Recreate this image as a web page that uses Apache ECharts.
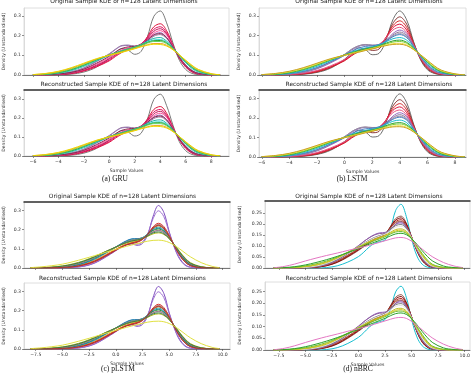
<!DOCTYPE html>
<html><head><meta charset="utf-8">
<script src="https://cdn.jsdelivr.net/npm/echarts@6/dist/echarts.min.js"></script>
<style>html,body{margin:0;padding:0;background:#fff}#c{width:474px;height:380px}</style>
</head><body><div id="c"></div>
<script>
// ---------- DATA ----------
const XA = [-6,-5,-4,-3,-2,-1,0,0.5,1,1.5,2,2.5,3,3.5,4,4.5,5,5.5,6,6.5,7,8,8.7];
const XC = [-8,-7,-6,-5,-4,-3,-2,-1,0,0.5,1,1.5,2,2.5,3,3.5,4,4.5,5,5.5,6,6.5,7,8,9,9.7];
const XD = [-8,-7,-6,-5,-4,-3,-2,-1,0,0.5,1,1.5,2,2.5,3,3.5,4,4.5,5,5.5,6,6.5,7,8,9,9.8];
const xTicksAB = [-6,-4,-2,0,2,4,6,8];
const xTicksCD = [-7.5,-5,-2.5,0,2.5,5,7.5,10];
const yTicksABC = [0,0.1,0.2,0.3];
const yTicksD = [0,0.05,0.1,0.15,0.2,0.25];

// (a) GRU
const A_gray    = [0,0,0.001,0.004,0.015,0.04,0.085,0.115,0.135,0.125,0.105,0.12,0.195,0.298,0.325,0.265,0.162,0.075,0.028,0.008,0.002,0,0];
const A_red1    = [0,0,0.002,0.007,0.02,0.042,0.072,0.095,0.115,0.13,0.14,0.155,0.195,0.245,0.26,0.225,0.152,0.085,0.04,0.015,0.005,0,0];
const A_red2    = [0,0.001,0.003,0.009,0.023,0.046,0.076,0.1,0.12,0.135,0.145,0.158,0.19,0.232,0.245,0.215,0.148,0.085,0.042,0.017,0.006,0,0];
const A_red3    = [0,0.001,0.003,0.01,0.025,0.05,0.082,0.104,0.123,0.135,0.142,0.155,0.185,0.222,0.235,0.208,0.147,0.088,0.045,0.019,0.007,0.001,0];
const A_pink    = [0,0.001,0.004,0.012,0.028,0.055,0.088,0.11,0.128,0.138,0.143,0.154,0.18,0.212,0.225,0.203,0.145,0.09,0.047,0.021,0.008,0.001,0];
const A_purple1 = [0,0.002,0.006,0.015,0.035,0.068,0.105,0.13,0.148,0.15,0.145,0.15,0.175,0.205,0.215,0.19,0.14,0.09,0.05,0.022,0.008,0.001,0];
const A_purple2 = [0,0.002,0.006,0.016,0.036,0.07,0.108,0.132,0.15,0.152,0.146,0.15,0.172,0.197,0.205,0.185,0.14,0.092,0.052,0.024,0.009,0.001,0];
const A_maroon  = [0,0.001,0.005,0.013,0.03,0.06,0.095,0.118,0.135,0.143,0.146,0.153,0.178,0.203,0.21,0.19,0.142,0.09,0.048,0.021,0.008,0.001,0];
const A_teal    = [0.001,0.003,0.009,0.022,0.044,0.072,0.1,0.113,0.124,0.133,0.142,0.155,0.172,0.186,0.19,0.172,0.138,0.098,0.062,0.033,0.015,0.002,0];
const A_cyan    = [0.001,0.004,0.011,0.025,0.047,0.075,0.101,0.112,0.122,0.132,0.141,0.153,0.168,0.178,0.18,0.167,0.136,0.1,0.065,0.037,0.018,0.003,0];
const A_green   = [0.001,0.004,0.012,0.027,0.05,0.077,0.102,0.112,0.121,0.131,0.14,0.152,0.165,0.174,0.175,0.163,0.135,0.1,0.067,0.039,0.02,0.004,0.001];
const A_lime    = [0.001,0.005,0.014,0.03,0.053,0.079,0.102,0.111,0.12,0.13,0.139,0.15,0.162,0.17,0.17,0.159,0.133,0.101,0.069,0.041,0.022,0.004,0.001];
const A_orange  = [0.002,0.007,0.017,0.034,0.057,0.081,0.101,0.109,0.117,0.126,0.135,0.145,0.154,0.16,0.16,0.151,0.13,0.102,0.073,0.046,0.026,0.006,0.001];
const A_yellow  = [0.002,0.008,0.019,0.037,0.06,0.083,0.1,0.107,0.115,0.124,0.133,0.143,0.151,0.156,0.155,0.147,0.128,0.102,0.075,0.049,0.028,0.007,0.001];

// (b) LSTM
const B_gray    = [0,0,0.001,0.004,0.013,0.035,0.08,0.112,0.138,0.13,0.103,0.11,0.175,0.28,0.325,0.28,0.17,0.078,0.027,0.008,0.002,0,0];
const B_brown   = [0,0,0.001,0.005,0.015,0.038,0.076,0.103,0.126,0.133,0.125,0.132,0.185,0.262,0.295,0.258,0.165,0.082,0.032,0.01,0.003,0,0];
const B_red1    = [0,0,0.002,0.006,0.017,0.04,0.072,0.097,0.118,0.131,0.134,0.145,0.19,0.25,0.275,0.242,0.16,0.085,0.036,0.013,0.004,0,0];
const B_crimson = [0,0.001,0.003,0.008,0.02,0.043,0.075,0.1,0.12,0.133,0.139,0.151,0.19,0.24,0.258,0.228,0.155,0.087,0.04,0.015,0.005,0,0];
const B_pink    = [0,0.001,0.003,0.009,0.023,0.047,0.079,0.103,0.123,0.135,0.142,0.155,0.188,0.228,0.242,0.216,0.152,0.088,0.043,0.017,0.006,0.001,0];
const B_purple1 = [0,0.001,0.005,0.013,0.031,0.062,0.1,0.126,0.145,0.152,0.15,0.152,0.175,0.21,0.228,0.208,0.15,0.09,0.045,0.019,0.007,0.001,0];
const B_purple2 = [0,0.002,0.006,0.015,0.034,0.066,0.104,0.13,0.148,0.155,0.152,0.153,0.172,0.203,0.218,0.2,0.148,0.092,0.048,0.021,0.008,0.001,0];
const B_gray2   = [0,0.002,0.006,0.016,0.035,0.067,0.105,0.13,0.147,0.153,0.15,0.152,0.17,0.198,0.21,0.194,0.146,0.093,0.05,0.022,0.008,0.001,0];
const B_blue    = [0,0.002,0.007,0.018,0.038,0.068,0.1,0.12,0.136,0.145,0.148,0.155,0.172,0.194,0.205,0.19,0.145,0.095,0.053,0.025,0.01,0.001,0];
const B_cyan    = [0.001,0.003,0.009,0.022,0.044,0.073,0.101,0.116,0.128,0.137,0.143,0.152,0.168,0.184,0.19,0.177,0.14,0.098,0.06,0.031,0.014,0.002,0];
const B_green   = [0.001,0.004,0.012,0.027,0.05,0.077,0.102,0.113,0.123,0.132,0.139,0.148,0.161,0.173,0.177,0.166,0.137,0.1,0.065,0.036,0.017,0.003,0];
const B_lime    = [0.001,0.005,0.014,0.03,0.053,0.079,0.101,0.111,0.12,0.129,0.137,0.146,0.157,0.167,0.17,0.161,0.134,0.101,0.068,0.039,0.019,0.004,0.001];
const B_yellow  = [0.002,0.007,0.017,0.034,0.057,0.081,0.1,0.109,0.117,0.126,0.134,0.143,0.152,0.159,0.161,0.153,0.131,0.102,0.072,0.044,0.023,0.005,0.001];
const B_gold    = [0.002,0.008,0.019,0.037,0.06,0.083,0.1,0.107,0.115,0.124,0.132,0.141,0.149,0.155,0.156,0.149,0.129,0.103,0.075,0.047,0.025,0.006,0.001];

// (c) pLSTM
const C_purple1 = [0,0,0,0.001,0.003,0.009,0.025,0.055,0.09,0.108,0.122,0.125,0.118,0.128,0.175,0.27,0.326,0.29,0.19,0.105,0.045,0.014,0.004,0,0,0];
const C_purple2 = [0,0,0,0.001,0.003,0.01,0.027,0.058,0.093,0.111,0.125,0.128,0.124,0.136,0.18,0.258,0.298,0.268,0.185,0.108,0.05,0.017,0.005,0,0,0];
const C_red     = [0,0,0.001,0.002,0.006,0.015,0.032,0.06,0.092,0.108,0.12,0.128,0.134,0.148,0.178,0.215,0.233,0.216,0.17,0.115,0.064,0.031,0.012,0.002,0,0];
const C_brown   = [0,0,0.001,0.003,0.008,0.018,0.036,0.064,0.095,0.11,0.122,0.132,0.14,0.152,0.178,0.21,0.226,0.21,0.168,0.115,0.067,0.033,0.014,0.002,0,0];
const C_orange  = [0,0,0.001,0.003,0.009,0.02,0.04,0.068,0.098,0.112,0.124,0.133,0.14,0.152,0.176,0.205,0.22,0.205,0.166,0.116,0.07,0.035,0.015,0.002,0,0];
const C_teal    = [0,0.001,0.002,0.005,0.011,0.024,0.045,0.075,0.108,0.125,0.14,0.15,0.152,0.158,0.178,0.203,0.213,0.198,0.161,0.116,0.072,0.038,0.017,0.003,0,0];
const C_blue    = [0,0.001,0.002,0.005,0.012,0.026,0.048,0.078,0.11,0.127,0.142,0.152,0.153,0.157,0.175,0.198,0.207,0.194,0.159,0.117,0.074,0.04,0.018,0.003,0,0];
const C_green   = [0,0.001,0.003,0.007,0.015,0.03,0.052,0.08,0.108,0.122,0.134,0.142,0.147,0.156,0.174,0.195,0.203,0.19,0.158,0.118,0.077,0.043,0.02,0.004,0.001,0];
const C_pink    = [0,0.001,0.003,0.008,0.017,0.032,0.055,0.082,0.108,0.121,0.132,0.14,0.146,0.155,0.172,0.19,0.197,0.186,0.157,0.119,0.08,0.046,0.023,0.005,0.001,0];
const C_gray    = [0,0.001,0.003,0.008,0.017,0.033,0.056,0.084,0.11,0.124,0.137,0.146,0.15,0.156,0.171,0.188,0.195,0.184,0.156,0.119,0.08,0.047,0.023,0.005,0.001,0];
const C_olive   = [0.001,0.002,0.005,0.011,0.022,0.038,0.06,0.085,0.108,0.12,0.13,0.138,0.144,0.152,0.165,0.178,0.183,0.175,0.153,0.12,0.085,0.052,0.028,0.007,0.001,0];
const C_dgreen  = [0,0.001,0.004,0.01,0.02,0.036,0.058,0.084,0.109,0.122,0.133,0.141,0.146,0.153,0.168,0.183,0.188,0.178,0.154,0.119,0.082,0.049,0.025,0.006,0.001,0];
const C_dred    = [0,0,0.001,0.003,0.007,0.017,0.035,0.063,0.094,0.109,0.121,0.13,0.137,0.15,0.176,0.208,0.222,0.205,0.165,0.114,0.066,0.032,0.013,0.002,0,0];
const C_yellow  = [0.002,0.006,0.012,0.02,0.033,0.048,0.064,0.081,0.097,0.105,0.113,0.12,0.127,0.134,0.14,0.144,0.145,0.142,0.133,0.118,0.099,0.078,0.058,0.028,0.009,0.002];

// (d) nBRC
const D_cyan     = [0,0,0,0,0,0.002,0.01,0.027,0.052,0.072,0.095,0.112,0.12,0.128,0.175,0.262,0.29,0.235,0.132,0.055,0.017,0.004,0.001,0,0,0];
const D_cyan_rec = [0,0,0,0,0,0.002,0.01,0.028,0.054,0.074,0.097,0.113,0.121,0.13,0.172,0.248,0.272,0.225,0.13,0.056,0.018,0.004,0.001,0,0,0];
const D_brown    = [0,0,0,0.001,0.003,0.01,0.025,0.05,0.08,0.097,0.113,0.127,0.138,0.152,0.188,0.225,0.236,0.205,0.142,0.077,0.033,0.011,0.003,0,0,0];
const D_maroon   = [0,0,0,0.001,0.004,0.011,0.027,0.053,0.083,0.1,0.116,0.13,0.14,0.153,0.186,0.218,0.228,0.2,0.141,0.079,0.035,0.012,0.004,0,0,0];
const D_red      = [0,0,0,0.002,0.005,0.013,0.03,0.056,0.086,0.103,0.119,0.132,0.142,0.154,0.183,0.211,0.22,0.195,0.14,0.081,0.037,0.014,0.004,0,0,0];
const D_sienna   = [0,0,0.001,0.002,0.006,0.015,0.032,0.059,0.089,0.106,0.122,0.135,0.145,0.156,0.182,0.206,0.213,0.19,0.139,0.083,0.04,0.016,0.005,0,0,0];
const D_purple   = [0,0,0.001,0.002,0.006,0.016,0.035,0.066,0.1,0.12,0.138,0.152,0.16,0.162,0.176,0.198,0.205,0.185,0.138,0.085,0.042,0.017,0.005,0,0,0];
const D_purple2  = [0,0,0.001,0.003,0.007,0.018,0.038,0.068,0.102,0.121,0.137,0.15,0.157,0.158,0.173,0.2,0.21,0.188,0.139,0.084,0.04,0.016,0.005,0,0,0];
const D_gray     = [0,0,0.001,0.003,0.008,0.019,0.039,0.067,0.097,0.113,0.127,0.139,0.148,0.156,0.174,0.193,0.198,0.181,0.138,0.089,0.047,0.02,0.007,0.001,0,0];
const D_light    = [0,0,0.001,0.003,0.009,0.021,0.042,0.069,0.097,0.111,0.124,0.136,0.145,0.154,0.17,0.186,0.19,0.176,0.137,0.091,0.05,0.022,0.008,0.001,0,0];
const D_olive    = [0,0.001,0.002,0.006,0.013,0.025,0.045,0.07,0.096,0.108,0.12,0.131,0.14,0.149,0.162,0.175,0.178,0.167,0.135,0.095,0.057,0.028,0.011,0.002,0,0];
const D_gold     = [0,0.001,0.003,0.007,0.015,0.028,0.047,0.071,0.095,0.107,0.118,0.128,0.137,0.146,0.158,0.169,0.172,0.162,0.133,0.097,0.061,0.031,0.013,0.002,0,0];
const D_lime     = [0,0.001,0.004,0.01,0.019,0.032,0.05,0.072,0.094,0.105,0.115,0.124,0.133,0.142,0.154,0.164,0.166,0.158,0.134,0.1,0.066,0.036,0.016,0.003,0,0];
const D_green    = [0,0.002,0.006,0.014,0.025,0.038,0.053,0.07,0.088,0.098,0.108,0.117,0.126,0.135,0.146,0.155,0.158,0.152,0.134,0.108,0.079,0.052,0.031,0.009,0.002,0];
const D_pink     = [0.001,0.007,0.018,0.032,0.045,0.057,0.068,0.08,0.091,0.097,0.103,0.11,0.117,0.124,0.131,0.137,0.139,0.135,0.122,0.105,0.086,0.067,0.05,0.025,0.009,0.002];

// ---------- STYLE / LAYOUT ----------
const panels = [
  { x: XA, xt: xTicksAB, yt: yTicksABC, xmin: -6.7, xmax: 9.4, left: 21, width: 208,
    sub: [{top: 8, h: 67, ymax: 0.34, topLine: false}, {top: 90, h: 66, ymax: 0.347, topLine: true}],
    titleX: 124, captionX: 115, captionY: 179, caption: '(a) GRU', titleY: [1.5, 84.3], nameGap: 18,
    orig: [[A_gray,'#7a7a7a'],[A_red1,'#dc143c'],[A_red2,'#e0115f'],[A_red3,'#c2185b'],[A_pink,'#ff4f9a'],[A_purple1,'#9467bd'],[A_purple2,'#9a7ea6'],[A_maroon,'#8b2a4a'],[A_teal,'#20b2aa'],[A_cyan,'#40e0d0'],[A_green,'#2ca02c'],[A_lime,'#5fd35f'],[A_orange,'#f0a020'],[A_yellow,'#e8d800']] },
  { x: XA, xt: xTicksAB, yt: yTicksABC, xmin: -6.2, xmax: 8.8, left: 259, width: 207,
    sub: [{top: 8, h: 67, ymax: 0.34, topLine: false}, {top: 90, h: 67, ymax: 0.345, topLine: true}],
    titleX: 369, captionX: 352, captionY: 179, caption: '(b) LSTM', titleY: [1.5, 84.3], nameGap: 18,
    orig: [[B_gray,'#6e6e6e'],[B_brown,'#8b3a3a'],[B_red1,'#d62728'],[B_crimson,'#dc143c'],[B_pink,'#e75480'],[B_purple1,'#9467bd'],[B_purple2,'#8e7a9a'],[B_gray2,'#9a8fa8'],[B_blue,'#4a7fc0'],[B_cyan,'#17becf'],[B_green,'#2ca02c'],[B_lime,'#7ccd32'],[B_yellow,'#f0e040'],[B_gold,'#c8a020']] },
  { x: XC, xt: xTicksCD, yt: yTicksABC, xmin: -8.6, xmax: 10.7, left: 21, width: 209,
    sub: [{top: 202, h: 66, ymax: 0.344, topLine: true}, {top: 283, h: 66, ymax: 0.344, topLine: false}],
    titleX: 122.5, captionX: 118, captionY: 369, caption: '(c) pLSTM', titleY: [196, 278.3], nameGap: 18,
    orig: [[C_purple1,'#7f4fbf'],[C_purple2,'#9d6fd0'],[C_red,'#d62728'],[C_brown,'#8c564b'],[C_orange,'#ff7f0e'],[C_teal,'#20a39e'],[C_blue,'#1f77b4'],[C_green,'#2ca02c'],[C_pink,'#e377c2'],[C_gray,'#7f7f7f'],[C_olive,'#bcbd22'],[C_dgreen,'#3a7d44'],[C_dred,'#b03030'],[C_yellow,'#e0e040']] },
  { x: XD, xt: xTicksCD, yt: yTicksD, xmin: -8.8, xmax: 10.5, left: 265, width: 205,
    sub: [{top: 201, h: 67, ymax: 0.305, topLine: true}, {top: 282, h: 68, ymax: 0.29, topLine: false}],
    titleX: 369, captionX: 358, captionY: 369, caption: '(d) nBRC', titleY: [196, 278], nameGap: 23,
    orig: [[D_cyan,'#17becf'],[D_brown,'#8c564b'],[D_maroon,'#800000'],[D_red,'#b22222'],[D_sienna,'#a0522d'],[D_purple,'#9467bd'],[D_purple2,'#8e5b9e'],[D_gray,'#7f7f7f'],[D_light,'#e4e4e4'],[D_olive,'#bcbd22'],[D_gold,'#d4c41a'],[D_lime,'#6fbf2f'],[D_green,'#2ca02c'],[D_pink,'#e377c2']] }
];
// reconstructed curves: visually identical except the (d) cyan peak
panels[0].rec = panels[0].orig;
panels[1].rec = panels[1].orig;
panels[2].rec = panels[2].orig;
panels[3].rec = panels[3].orig.map(c => c[0] === D_cyan ? [D_cyan_rec, c[1]] : c);

const FONT = 'DejaVu Sans';
const minus = s => s.replace('-', '\u2212');
const grids = [], xAxes = [], yAxes = [], series = [], graphics = [];
const titles = ['Original Sample KDE of n=128 Latent Dimensions', 'Reconstructed Sample KDE of n=128 Latent Dimensions'];

panels.forEach((p, pi) => {
  p.sub.forEach((s, si) => {
    const g = grids.length;
    grids.push({ left: p.left, top: s.top, width: p.width, height: s.h, show: true, borderColor: '#d6d6d6', borderWidth: 0.8, backgroundColor: '#fff' });
    const xFmt = v => minus(p.xt === xTicksCD ? Number(v).toFixed(1) : String(Math.round(v)));
    xAxes.push({
      gridIndex: g, type: 'value', position: 'bottom', min: p.xmin, max: p.xmax,
      axisLine: { show: true, onZero: false, lineStyle: { color: '#6a6a6a', width: 0.9 } },
      axisTick: { show: true, length: 2, customValues: p.xt, lineStyle: { color: '#444', width: 0.6 } },
      axisLabel: { show: si === 1, customValues: p.xt, formatter: xFmt, fontSize: 4.6, color: '#333', margin: 3, fontFamily: FONT },
      splitLine: { show: false },
      name: si === 1 ? 'Sample Values' : '', nameLocation: 'middle', nameGap: 12,
      nameTextStyle: { fontSize: 4.6, color: '#333', fontFamily: FONT }
    });
    xAxes.push({
      gridIndex: g, type: 'value', position: 'top', min: p.xmin, max: p.xmax,
      axisLine: { show: s.topLine, onZero: false, lineStyle: { color: '#333', width: 1.5 } },
      axisTick: { show: false }, axisLabel: { show: false }, splitLine: { show: false }
    });
    const yDec = p.yt === yTicksD ? 2 : 1;
    yAxes.push({
      gridIndex: g, type: 'value', min: 0, max: s.ymax,
      axisLine: { show: true, onZero: false, lineStyle: { color: '#d6d6d6', width: 0.8 } },
      axisTick: { show: true, length: 2, customValues: p.yt, lineStyle: { color: '#444', width: 0.6 } },
      axisLabel: { customValues: p.yt, formatter: v => Number(v).toFixed(yDec), fontSize: 4.6, color: '#333', margin: 3, fontFamily: FONT },
      splitLine: { show: false },
      name: 'Density (Unstandardised)', nameLocation: 'middle', nameRotate: 90, nameGap: p.nameGap,
      nameTextStyle: { fontSize: 4.5, color: '#333', fontFamily: FONT }
    });
    const curves = si === 0 ? p.orig : p.rec;
    curves.forEach(([ys, col]) => {
      series.push({
        type: 'line', xAxisIndex: 2 * g, yAxisIndex: g, showSymbol: false, smooth: 0.35, silent: true,
        lineStyle: { width: 1, color: col }, itemStyle: { color: col },
        data: p.x.map((xv, k) => [xv, ys[k]])
      });
    });
    graphics.push({ type: 'text', x: p.titleX, y: p.titleY[si], style: { text: titles[si], font: '5.9px "DejaVu Sans"', fill: '#222', textAlign: 'center', textVerticalAlign: 'middle' } });
  });
  graphics.push({ type: 'text', x: p.captionX, y: p.captionY, style: { text: p.caption, font: '7.5px "Liberation Serif"', fill: '#111', textAlign: 'center', textVerticalAlign: 'middle' } });
});

const chart = echarts.init(document.getElementById('c'), null, { renderer: 'canvas' });
chart.setOption({ animation: false, backgroundColor: '#fff', grid: grids, xAxis: xAxes, yAxis: yAxes, series: series, graphic: graphics });
</script></body></html>
